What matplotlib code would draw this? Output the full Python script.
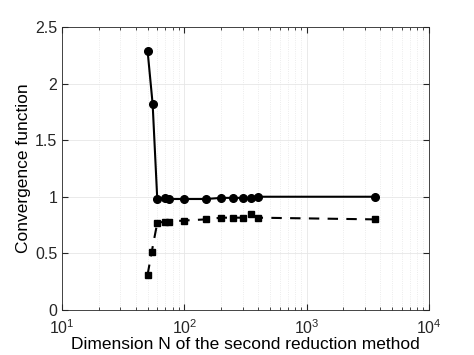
import matplotlib
matplotlib.use("Agg")
import matplotlib.pyplot as plt
import numpy as np

plt.rcParams['font.family'] = ['Liberation Sans', 'DejaVu Sans']

# dimension N and convergence values
n_circle = [50, 55, 60, 70, 75, 100, 150, 200, 250, 300, 350, 400, 3600]
conv_circle = [2.29, 1.82, 0.98, 0.99, 0.98, 0.98, 0.98, 0.99, 0.99, 0.99, 0.99, 1.0, 1.0]
n_square = [50, 54, 60, 70, 75, 100, 150, 200, 250, 300, 350, 400, 3600]
conv_square = [0.31, 0.51, 0.77, 0.78, 0.78, 0.79, 0.80, 0.815, 0.815, 0.815, 0.845, 0.815, 0.80]

fig = plt.figure(figsize=(4.74, 3.55), dpi=100)
ax = fig.add_axes([0.131, 0.127, 0.774, 0.797])

ax.plot(n_circle, conv_circle, 'k-o', linewidth=1.5, markersize=5.5)
ax.plot(n_square, conv_square, 'k--s', linewidth=1.5, markersize=4.5, dashes=(5, 4))

ax.set_xscale('log')
ax.set_xlim(10, 1e4)
ax.set_ylim(0, 2.5)
ax.set_yticks([0, 0.5, 1, 1.5, 2, 2.5])
ax.set_yticklabels(['0', '0.5', '1', '1.5', '2', '2.5'])

ax.grid(True, which='major', color='#e6e6e6', linewidth=0.6)
ax.grid(True, which='minor', color='#e6e6e6', linestyle=':', linewidth=0.6)
ax.set_axisbelow(True)

ax.tick_params(which='both', direction='in', top=True, right=True, labelsize=11.5, colors='#262626')
ax.tick_params(which='major', length=4)
ax.tick_params(which='minor', length=2)
ax.tick_params(axis='x', pad=6)
for s in ax.spines.values():
    s.set_color('#262626')
    s.set_linewidth(0.6)

ax.set_xlabel("Dimension N of the second reduction method", fontsize=12.5, labelpad=0)
ax.set_ylabel("Convergence function", fontsize=12.5, labelpad=3)

fig.savefig("out.png", dpi=100)
